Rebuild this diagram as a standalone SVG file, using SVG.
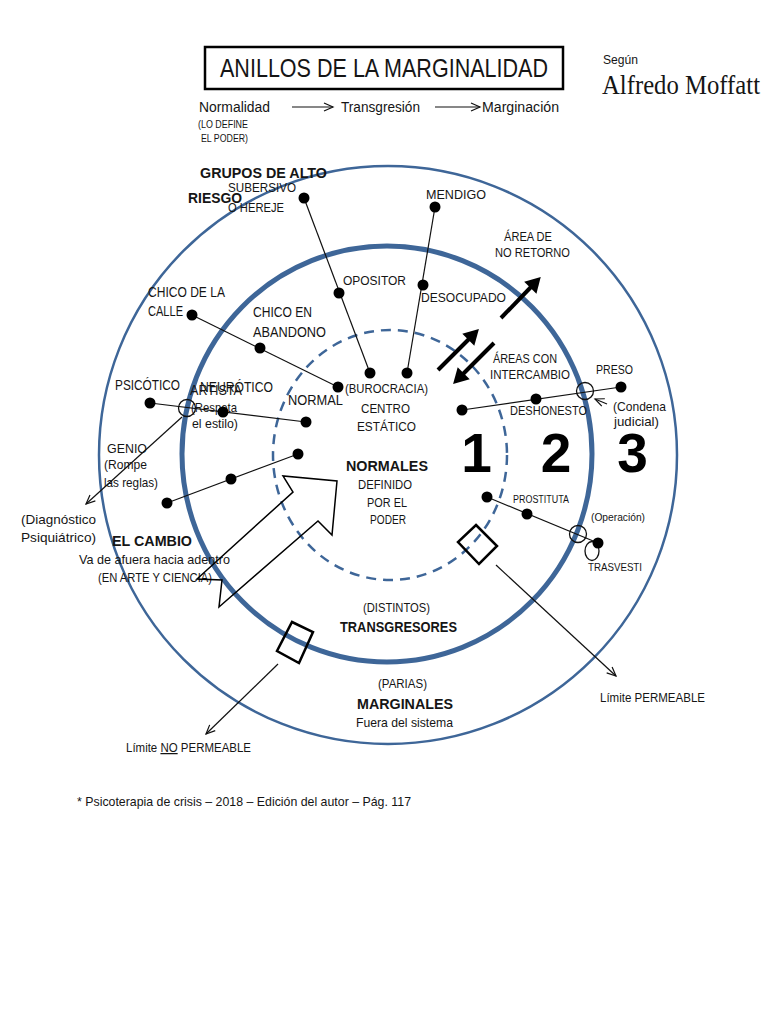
<svg xmlns="http://www.w3.org/2000/svg" width="768" height="1024" viewBox="0 0 768 1024">
<style>
text{font-family:"Liberation Sans",Arial,sans-serif;fill:#151515}
.b{font-weight:bold}
.s12{font-size:12.5px}.s13{font-size:13.5px}.s14{font-size:14px}.s10{font-size:10.5px}.s15{font-size:15.5px}
.ring{fill:none;stroke:#3e6698}
.ln{stroke:#111;stroke-width:1.2;fill:none}
.dot{fill:#000}
.oc{fill:none;stroke:#111;stroke-width:1.3}
.thick{stroke:#000;stroke-width:4;fill:none}
.shape{fill:none;stroke:#000;stroke-width:2.5}
.big{fill:none;stroke:#000;stroke-width:1.5;stroke-linejoin:miter}
.num{font-weight:bold;font-size:55px;text-anchor:middle;fill:#000}
</style>
<defs>
<marker id="open" markerUnits="userSpaceOnUse" viewBox="0 0 10 10" refX="9" refY="5" markerWidth="10" markerHeight="10" orient="auto" overflow="visible">
<path d="M0,1 L9,5 L0,9" fill="none" stroke="#111" stroke-width="1.2"/>
</marker>
<marker id="solid" markerUnits="userSpaceOnUse" viewBox="0 0 15 17" refX="1" refY="8.5" markerWidth="15" markerHeight="17" orient="auto" overflow="visible">
<path d="M0,0 L15,8.5 L0,17 z" fill="#000"/>
</marker>
</defs>
<rect width="768" height="1024" fill="#fff"/>

<g id="title">
<rect x="205" y="47" width="358" height="42" fill="none" stroke="#000" stroke-width="2.5"/>
<text x="220" y="77" style="font-size:26px" textLength="328" lengthAdjust="spacingAndGlyphs">ANILLOS DE LA MARGINALIDAD</text>
<text x="603" y="64" style="font-size:12px" textLength="35" lengthAdjust="spacingAndGlyphs">Según</text>
<text x="602" y="94" style="font-family:'Liberation Serif','Times New Roman',serif;font-size:27px" textLength="158" lengthAdjust="spacingAndGlyphs">Alfredo Moffatt</text>
</g>

<g id="sequence">
<text x="199" y="112" class="s14" textLength="71" lengthAdjust="spacingAndGlyphs">Normalidad</text>
<text x="341" y="112" class="s14" textLength="79" lengthAdjust="spacingAndGlyphs">Transgresión</text>
<text x="482" y="112" class="s14" textLength="77" lengthAdjust="spacingAndGlyphs">Marginación</text>
<text x="198" y="128" style="font-size:10px" textLength="50" lengthAdjust="spacingAndGlyphs">(LO DEFINE</text>
<text x="201" y="142" style="font-size:10px" textLength="47" lengthAdjust="spacingAndGlyphs">EL PODER)</text>
</g>

<g id="rings">
<circle class="ring" cx="388" cy="455" r="289" stroke-width="2.5"/>
<ellipse class="ring" cx="387" cy="454" rx="205" ry="208" stroke-width="5"/>
<ellipse class="ring" cx="390" cy="455" rx="117" ry="125" stroke-width="2.5" stroke-dasharray="10 7"/>
</g>

<g id="connectors">
<line class="ln" x1="292" y1="107" x2="333" y2="107" marker-end="url(#open)"/>
<line class="ln" x1="435" y1="107" x2="480" y2="107" marker-end="url(#open)"/>
<line class="ln" x1="304" y1="198" x2="370" y2="373"/>
<line class="ln" x1="435" y1="207" x2="407" y2="373"/>
<line class="ln" x1="192" y1="315" x2="338" y2="387"/>
<line class="ln" x1="150" y1="403" x2="306" y2="422"/>
<line class="ln" x1="167" y1="503" x2="298" y2="454"/>
<line class="ln" x1="462" y1="410" x2="621" y2="387"/>
<line class="ln" x1="487" y1="497" x2="598" y2="543"/>
<line class="ln" x1="182" y1="417" x2="86" y2="504" marker-end="url(#open)"/>
<line class="ln" x1="607" y1="404" x2="595" y2="399" marker-end="url(#open)"/>
<line class="ln" x1="496" y1="565" x2="616" y2="676" marker-end="url(#open)"/>
<line class="ln" x1="278" y1="664" x2="206" y2="734" marker-end="url(#open)"/>
<line class="thick" x1="501" y1="318" x2="531" y2="287" marker-end="url(#solid)"/>
<line class="thick" x1="438" y1="370" x2="469" y2="339" marker-end="url(#solid)"/>
<line class="thick" x1="494" y1="343" x2="463" y2="374" marker-end="url(#solid)"/>
</g>

<g id="grupos-alto-riesgo">
<text x="200" y="178" class="b s15" textLength="127" lengthAdjust="spacingAndGlyphs">GRUPOS DE ALTO</text>
<text x="188" y="203" class="b s15" textLength="54" lengthAdjust="spacingAndGlyphs">RIESGO</text>
</g>
<g id="subersivo">
<text x="228" y="192" style="font-size:13px" textLength="68" lengthAdjust="spacingAndGlyphs">SUBERSIVO</text>
<text x="228" y="212" style="font-size:13px" textLength="56" lengthAdjust="spacingAndGlyphs">O HEREJE</text>
<circle class="dot" cx="304" cy="198" r="5.5"/>
</g>
<g id="opositor">
<text x="343" y="285" class="s12" textLength="63" lengthAdjust="spacingAndGlyphs">OPOSITOR</text>
<circle class="dot" cx="339" cy="293" r="5.5"/>
</g>
<g id="mendigo">
<text x="426" y="199" class="s13" textLength="60" lengthAdjust="spacingAndGlyphs">MENDIGO</text>
<circle class="dot" cx="435" cy="207" r="5.5"/>
</g>
<g id="desocupado">
<text x="421" y="302" style="font-size:13px" textLength="85" lengthAdjust="spacingAndGlyphs">DESOCUPADO</text>
<circle class="dot" cx="423" cy="285" r="5.5"/>
</g>
<g id="area-no-retorno">
<text x="504" y="241" style="font-size:13px" textLength="48" lengthAdjust="spacingAndGlyphs">ÁREA DE</text>
<text x="495" y="257" style="font-size:13px" textLength="75" lengthAdjust="spacingAndGlyphs">NO RETORNO</text>
</g>
<g id="areas-intercambio">
<text x="493" y="363" style="font-size:13px" textLength="64" lengthAdjust="spacingAndGlyphs">ÁREAS CON</text>
<text x="490" y="379" style="font-size:13px" textLength="80" lengthAdjust="spacingAndGlyphs">INTERCAMBIO</text>
</g>
<g id="chico-calle">
<text x="148" y="297" class="s14" textLength="77" lengthAdjust="spacingAndGlyphs">CHICO DE LA</text>
<text x="148" y="316" class="s14" textLength="35" lengthAdjust="spacingAndGlyphs">CALLE</text>
<circle class="dot" cx="192" cy="315" r="5.5"/>
</g>
<g id="chico-abandono">
<text x="253" y="317" class="s14" textLength="59" lengthAdjust="spacingAndGlyphs">CHICO EN</text>
<text x="253" y="337" class="s14" textLength="73" lengthAdjust="spacingAndGlyphs">ABANDONO</text>
<circle class="dot" cx="260" cy="348" r="5.5"/>
</g>
<g id="centro-estatico">
<circle class="dot" cx="338" cy="387" r="5.5"/>
<circle class="dot" cx="370" cy="373" r="5.5"/>
<circle class="dot" cx="407" cy="373" r="5.5"/>
<text x="345" y="393" class="s13" textLength="83" lengthAdjust="spacingAndGlyphs">(BUROCRACIA)</text>
<text x="361" y="413" class="s13" textLength="49" lengthAdjust="spacingAndGlyphs">CENTRO</text>
<text x="357" y="431" class="s13" textLength="59" lengthAdjust="spacingAndGlyphs">ESTÁTICO</text>
</g>
<g id="psicotico">
<text x="115" y="390" class="s14" textLength="65" lengthAdjust="spacingAndGlyphs">PSICÓTICO</text>
<circle class="dot" cx="150" cy="403" r="5.5"/>
<circle class="oc" cx="187" cy="408" r="8.5"/>
</g>
<g id="neurotico-artista">
<text x="200" y="392" class="s14" textLength="73" lengthAdjust="spacingAndGlyphs">NEURÓTICO</text>
<text x="190" y="395" class="s14" textLength="52" lengthAdjust="spacingAndGlyphs">ARTISTA</text>
<text x="191" y="412" style="font-size:13px" textLength="46" lengthAdjust="spacingAndGlyphs">(Respeta</text>
<text x="192" y="428" style="font-size:13px" textLength="46" lengthAdjust="spacingAndGlyphs">el estilo)</text>
<circle class="dot" cx="223" cy="412" r="5.5"/>
</g>
<g id="normal">
<text x="288" y="405" class="s14" textLength="55" lengthAdjust="spacingAndGlyphs">NORMAL</text>
<circle class="dot" cx="306" cy="422" r="5.5"/>
</g>
<g id="genio">
<text x="107" y="453" class="s13" textLength="40" lengthAdjust="spacingAndGlyphs">GENIO</text>
<text x="104" y="469" class="s13" textLength="43" lengthAdjust="spacingAndGlyphs">(Rompe</text>
<text x="104" y="487" class="s13" textLength="54" lengthAdjust="spacingAndGlyphs">las reglas)</text>
<circle class="dot" cx="167" cy="503" r="5.5"/>
<circle class="dot" cx="231" cy="479" r="5.5"/>
<circle class="dot" cx="298" cy="454" r="5.5"/>
</g>
<g id="diagnostico">
<text x="21" y="524" class="s13" textLength="75" lengthAdjust="spacingAndGlyphs">(Diagnóstico</text>
<text x="21" y="542" class="s13" textLength="75" lengthAdjust="spacingAndGlyphs">Psiquiátrico)</text>
</g>
<g id="el-cambio">
<text x="112" y="546" class="b s15" textLength="80" lengthAdjust="spacingAndGlyphs">EL CAMBIO</text>
<text x="79" y="564" style="font-size:13px" textLength="151" lengthAdjust="spacingAndGlyphs">Va de afuera hacia adentro</text>
<text x="98" y="582" style="font-size:13px" textLength="114" lengthAdjust="spacingAndGlyphs">(EN ARTE Y CIENCIA)</text>
<polygon class="big" points="197,579 293,492 283,476 337,481 332,535 318,521 219,607 222,580"/>
</g>
<g id="normales">
<text x="346" y="471" class="b s14" textLength="82" lengthAdjust="spacingAndGlyphs">NORMALES</text>
<text x="358" y="489" class="s12" textLength="54" lengthAdjust="spacingAndGlyphs">DEFINIDO</text>
<text x="367" y="507" class="s12" textLength="40" lengthAdjust="spacingAndGlyphs">POR EL</text>
<text x="370" y="524" class="s12" textLength="36" lengthAdjust="spacingAndGlyphs">PODER</text>
</g>
<g id="deshonesto-preso">
<circle class="dot" cx="462" cy="410" r="5.5"/>
<circle class="dot" cx="536" cy="399" r="5.5"/>
<circle class="oc" cx="585" cy="391" r="8.5"/>
<circle class="dot" cx="621" cy="387" r="5.5"/>
<text x="510" y="415" style="font-size:13px" textLength="77" lengthAdjust="spacingAndGlyphs">DESHONESTO</text>
<text x="596" y="374" style="font-size:13px" textLength="37" lengthAdjust="spacingAndGlyphs">PRESO</text>
<text x="613" y="411" class="s13" textLength="53" lengthAdjust="spacingAndGlyphs">(Condena</text>
<text x="614" y="426" class="s13" textLength="45" lengthAdjust="spacingAndGlyphs">judicial)</text>
</g>
<g id="numbers">
<text x="476.5" y="472" class="num">1</text>
<text x="556" y="472" class="num">2</text>
<text x="632.5" y="472" class="num">3</text>
</g>
<g id="prostituta-trasvesti">
<circle class="dot" cx="487" cy="497" r="5.5"/>
<circle class="dot" cx="527" cy="514" r="5.5"/>
<circle class="oc" cx="578" cy="534" r="8.5"/>
<ellipse class="oc" cx="592" cy="551" rx="7" ry="9.5"/>
<circle class="dot" cx="598" cy="543" r="5.5"/>
<text x="513" y="503" style="font-size:10px" textLength="56" lengthAdjust="spacingAndGlyphs">PROSTITUTA</text>
<text x="591" y="521" style="font-size:10.5px" textLength="54" lengthAdjust="spacingAndGlyphs">(Operación)</text>
<text x="588" y="571" style="font-size:11px" textLength="54" lengthAdjust="spacingAndGlyphs">TRASVESTI</text>
</g>
<g id="limite-permeable">
<polygon class="shape" points="476,525 497,546 479,564 458,542"/>
<text x="600" y="702" class="s12" textLength="105" lengthAdjust="spacingAndGlyphs">Límite PERMEABLE</text>
</g>
<g id="limite-no-permeable">
<polygon class="shape" points="292,622 313,632 299,663 277,651"/>
<text x="126" y="752" class="s12" textLength="125" lengthAdjust="spacingAndGlyphs">Límite <tspan text-decoration="underline">NO</tspan> PERMEABLE</text>
</g>
<g id="transgresores">
<text x="363" y="612" style="font-size:13px" textLength="67" lengthAdjust="spacingAndGlyphs">(DISTINTOS)</text>
<text x="340" y="632" class="b s15" textLength="117" lengthAdjust="spacingAndGlyphs">TRANSGRESORES</text>
</g>
<g id="marginales">
<text x="378" y="688" style="font-size:13px" textLength="49" lengthAdjust="spacingAndGlyphs">(PARIAS)</text>
<text x="357" y="709" class="b s15" textLength="96" lengthAdjust="spacingAndGlyphs">MARGINALES</text>
<text x="356" y="727" style="font-size:13px" textLength="97" lengthAdjust="spacingAndGlyphs">Fuera del sistema</text>
</g>
<g id="footnote">
<text x="77" y="806" style="font-size:13px" textLength="334" lengthAdjust="spacingAndGlyphs">* Psicoterapia de crisis – 2018 – Edición del autor – Pág. 117</text>
</g>
</svg>
